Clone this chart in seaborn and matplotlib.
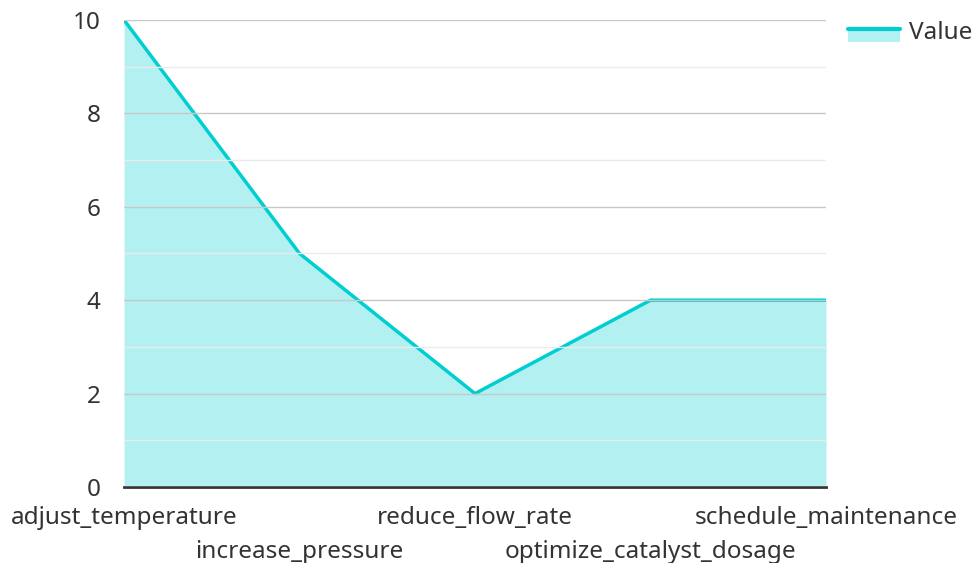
import matplotlib
matplotlib.use("Agg")
import matplotlib.pyplot as plt
import seaborn as sns
import pandas as pd
from matplotlib.lines import Line2D
from matplotlib.patches import Rectangle
from matplotlib.legend_handler import HandlerBase

# Data
actions = ["adjust_temperature", "increase_pressure", "reduce_flow_rate",
           "optimize_catalyst_dosage", "schedule_maintenance"]
values = [10, 5, 2, 4, 4]

df = pd.DataFrame({"Action": actions, "Value": values})
df["pos"] = range(len(df))

sns.set_style("white")
plt.rcParams['font.family'] = ['Noto Sans', 'DejaVu Sans']

line_color = "#00CED1"
text_color = "#333333"
fsize = 17.5


# legend key: line on top of a light area patch
class AreaHandler(HandlerBase):
    def create_artists(self, legend, orig_handle, xdescent, ydescent,
                       width, height, fontsize, trans):
        line_y = 0.55 * height - ydescent
        rect = Rectangle((-xdescent, line_y - 0.7 * height), width, 0.7 * height,
                         facecolor=line_color, alpha=0.3, linewidth=0, transform=trans)
        ln = Line2D([-xdescent, -xdescent + width], [line_y, line_y],
                    color=line_color, linewidth=3, transform=trans)
        return [rect, ln]


fig = plt.figure(figsize=(9.75, 5.63), dpi=100)
ax = fig.add_axes([0.1272, 0.135, 0.72, 0.8295])

ax.fill_between(df["pos"], df["Value"], 0, color=line_color, alpha=0.3, linewidth=0)
sns.lineplot(data=df, x="pos", y="Value", color=line_color, linewidth=2.5, ax=ax)

ax.set_xlim(0, len(df) - 1)
ax.set_ylim(0, 10)

# gridlines
ax.set_yticks([0, 2, 4, 6, 8, 10])
ax.set_yticks([1, 3, 5, 7, 9], minor=True)
ax.grid(True, axis="y", which="major", color="#c8c8c8", linewidth=1)
ax.grid(True, axis="y", which="minor", color="#ebebeb", linewidth=1)
ax.grid(False, axis="x")
ax.set_axisbelow(False)
ax.set_yticklabels([str(v) for v in [0, 2, 4, 6, 8, 10]])

# staggered x labels: even positions on major ticks, odd on minor ticks
even = df[df["pos"] % 2 == 0]
odd = df[df["pos"] % 2 == 1]
ax.set_xticks(even["pos"])
ax.set_xticklabels(even["Action"])
ax.set_xticks(odd["pos"], minor=True)
ax.set_xticklabels(odd["Action"], minor=True)
ax.tick_params(axis="x", which="major", length=0, pad=14, labelsize=fsize, labelcolor=text_color)
ax.tick_params(axis="x", which="minor", length=0, pad=38, labelsize=fsize, labelcolor=text_color)
ax.tick_params(axis="y", which="both", length=0, pad=17, labelsize=fsize, labelcolor=text_color)
ax.tick_params(axis="y", which="minor", labelleft=False)

for s in ["top", "right", "left"]:
    ax.spines[s].set_visible(False)
ax.spines["bottom"].set_color(text_color)
ax.spines["bottom"].set_linewidth(2)

ax.set_xlabel("")
ax.set_ylabel("")

ax.legend([object()], ["Value"], handler_map={object: AreaHandler()},
          loc="upper left", bbox_to_anchor=(1.0, 1.045),
          frameon=False, fontsize=fsize, handlelength=2.15, handleheight=0.8,
          handletextpad=0.35, labelcolor=text_color)

fig.savefig("out.png", dpi=100)
